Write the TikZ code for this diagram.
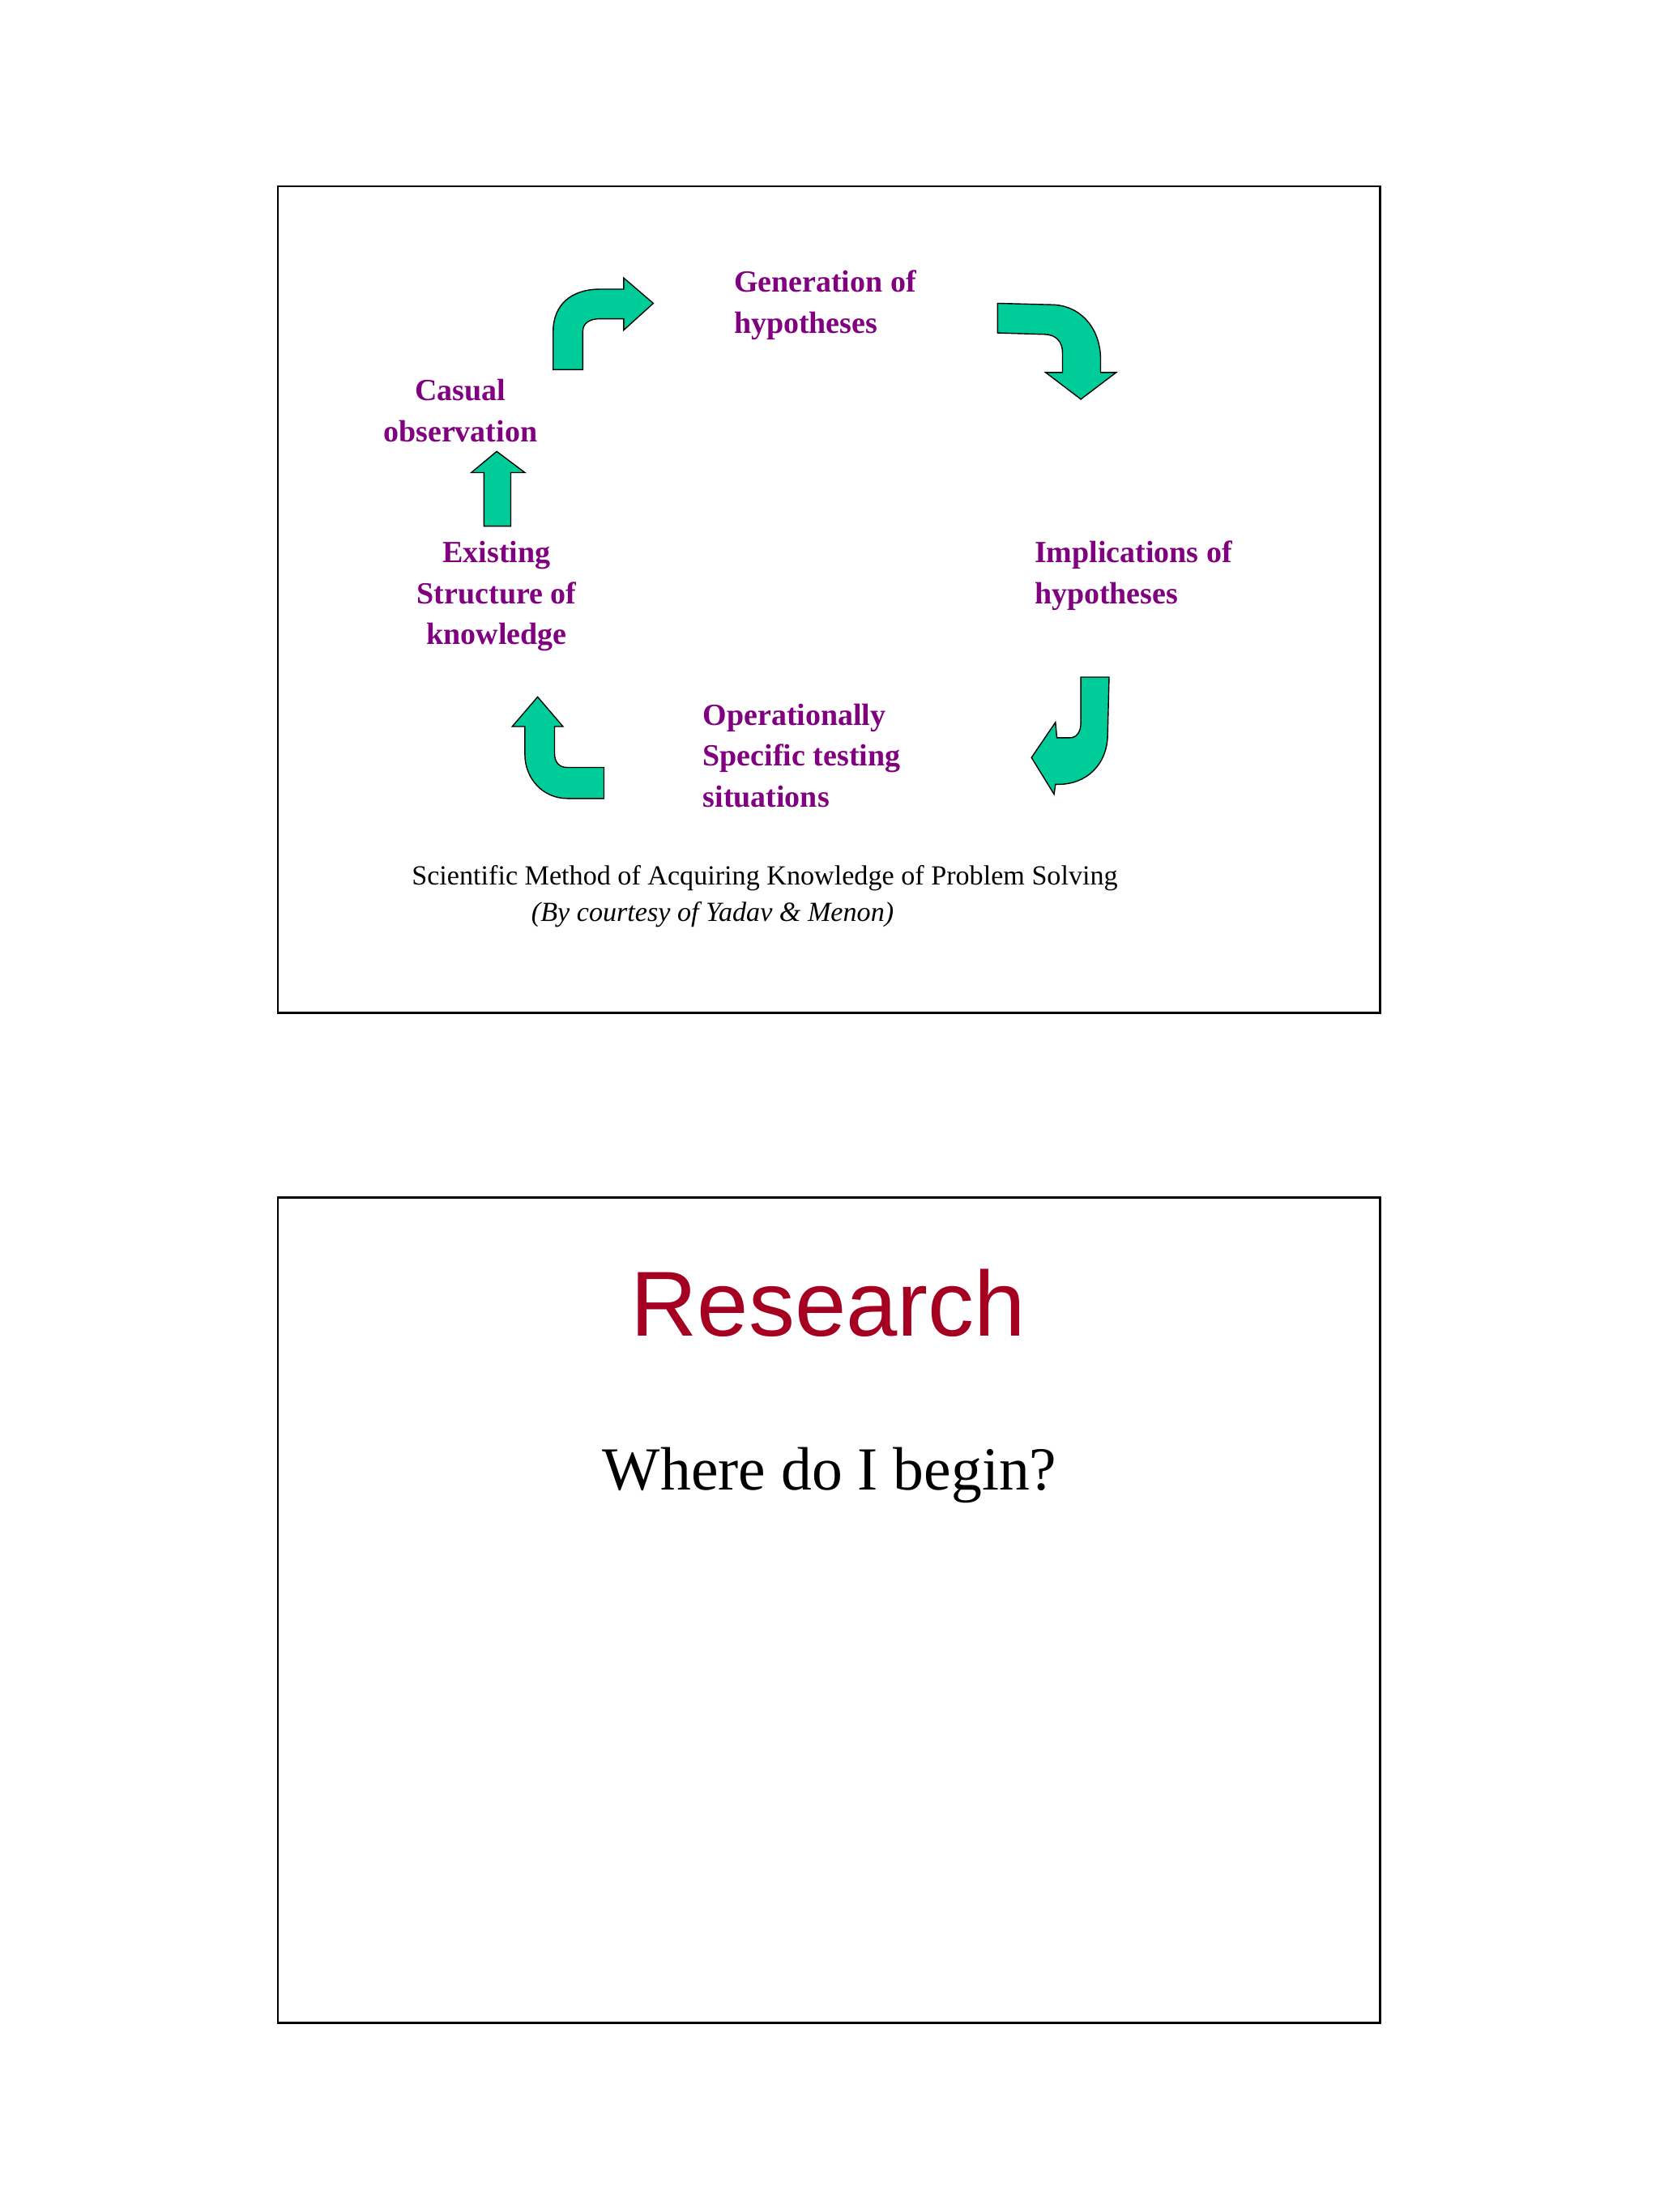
\documentclass[tikz,border=0pt]{standalone}
\usepackage{fontspec}
\setmainfont{Liberation Serif}
\newfontfamily\arialfont{Liberation Sans}
\definecolor{arrowgreen}{HTML}{00CC99}
\definecolor{stagepurple}{HTML}{800080}
\definecolor{titlered}{HTML}{A50021}
\tikzset{
  bentarrow/.style = {fill=arrowgreen, draw=black, line width=0.8pt, line join=miter},
  stage/.style = {text=stagepurple, font=\fontsize{21.8}{29}\selectfont\bfseries, inner sep=0pt},
  slide/.style = {draw=black, line width=1.5pt}
}
\begin{document}
\begin{tikzpicture}[x=1pt, y=-1pt]
	\useasboundingbox (0,0) rectangle (1176,1568);
	% slide frames
	\draw[slide] (197,132) rectangle (978,718);
	\draw[slide] (197,849) rectangle (978,1434);

	% stages
	\node[stage, anchor=base west, align=left] (gen) at (520,236) {Generation of\\hypotheses};
	\node[stage, anchor=base east, align=center] (cas) at (381,313) {Casual\\observation};
	\node[stage, anchor=base, align=center] (exi) at (352,457) {Existing\\Structure of\\knowledge};
	\node[stage, anchor=base west, align=left] (imp) at (733,428) {Implications of\\hypotheses};
	\node[stage, anchor=base west, align=left] (ope) at (498,572) {Operationally\\Specific testing\\situations};

	% bent arrows
	\draw[bentarrow] (392,262) -- (392,235) .. controls (392,216) and (405,205) .. (425,205) -- (442,205) -- (442,197)
		-- (463,215) -- (442,234) -- (442,226) -- (425,226) .. controls (418,226) and (413,229) .. (413,235) -- (413,262) -- cycle;
	\draw[bentarrow] (707,215) -- (745,216) .. controls (765,216) and (780,232) .. (780,255) -- (780,264) -- (791,264)
		-- (766,283) -- (741,264) -- (753,264) -- (753,250) .. controls (753,242) and (748,237) .. (740,237) -- (707,236) -- cycle;
	\draw[bentarrow] (786,480) -- (785,520) .. controls (785,542) and (770,556) .. (750,556) -- (748,556) -- (747,563)
		-- (731,537) -- (748,512) -- (749,523) -- (758,523) .. controls (763,523) and (766,519) .. (766,512) -- (766,480) -- cycle;
	\draw[bentarrow] (428,566) -- (402,566) .. controls (385,566) and (372,552) .. (372,535) -- (372,515) -- (363,515)
		-- (381,494) -- (399,515) -- (393,515) -- (393,534) .. controls (393,540) and (396,544) .. (402,544) -- (428,544) -- cycle;
	\draw[bentarrow] (343,373) -- (343,335) -- (334,335) -- (352,320) -- (372,335) -- (362,335) -- (362,373) -- cycle;

	% caption
	\node[anchor=base, font=\fontsize{19.6}{22}\selectfont, inner sep=0pt] (cap) at (542,627)
		{Scientific Method of Acquiring Knowledge of Problem Solving};
	\node[anchor=base, font=\fontsize{19.6}{22}\selectfont\itshape, inner sep=0pt] (src) at (505,653)
		{(By courtesy of Yadav \& Menon)};

	% second slide
	\node[anchor=base, text=titlered, font=\fontsize{65.4}{70}\arialfont, inner sep=0pt] (title) at (587,947) {Research};
	\node[anchor=base, font=\fontsize{43.4}{48}\selectfont, inner sep=0pt] (ask) at (588,1056) {Where do I begin?};
\end{tikzpicture}
\end{document}
